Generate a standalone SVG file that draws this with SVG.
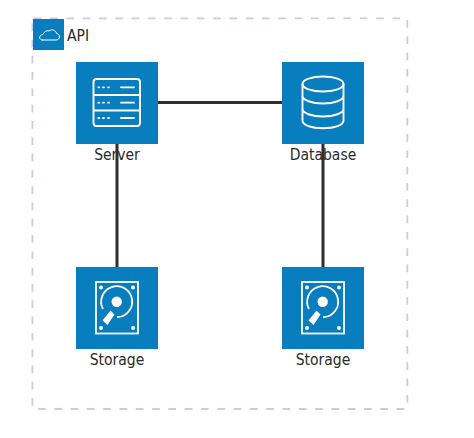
<svg xmlns="http://www.w3.org/2000/svg" width="474" height="438" viewBox="0 0 474 438">
<style>
.bg{fill:#087ebf}
.ic{fill:none;stroke:#fff;stroke-width:1.9;stroke-linecap:round;stroke-linejoin:round}
.fl{fill:#fff}
.lb{font-family:"DejaVu Sans",sans-serif;font-stretch:condensed;font-size:15.500px;fill:#2b2b2b;text-anchor:middle}
.cn{fill:none;stroke:#2f2f2f;stroke-width:3}
.bd{fill:none;stroke:#cdc9ea;stroke-width:1.800;stroke-dasharray:7.700 8.600}
</style>
<defs>
<g id="disk">
<rect class="bg" width="82" height="82"/>
<rect x="20" y="15" width="42" height="51.500" fill="none" stroke="#fff" stroke-width="1.800"/>
<circle class="fl" cx="25" cy="20.500" r="2"/><circle class="fl" cx="57" cy="20.500" r="2"/><circle class="fl" cx="25" cy="61" r="2"/><circle class="fl" cx="57" cy="61" r="2"/>
<path d="M27 42A15.500 15.500 0 1 1 41 50.200" fill="none" stroke="#fff" stroke-width="1.800"/>
<circle class="fl" cx="40.700" cy="34.700" r="5.200"/>
<path class="fl" d="M26.500 53.500L31.500 58L38.500 47.500L34.500 43.500Z"/>
</g>
</defs>
<g id="connectors">
<path class="cn" d="M158 102.500H282"/>
<path class="cn" d="M117 143V267"/>
<path class="cn" d="M323 143V267"/>
</g>
<g id="api-boundary">
<path class="bd" d="M33.800 18.400H401"/>
<path class="bd" d="M407.300 20V404"/>
<path class="bd" d="M38 409H406"/>
<path class="bd" d="M32.400 405.800V20"/>
<rect class="bg" x="33" y="19" width="31" height="31"/>
<path class="ic" style="stroke-width:1" d="M42.500 40H56C60.500 40 60.500 34 56.500 33.500C56 30.500 52 28.500 49 31C45.500 30 43.500 33 43 34.500C38.500 35 38.500 40 42.500 40Z"/>
<text class="lb" x="67" y="41" style="text-anchor:start">API</text>
</g>
<g id="server">
<rect class="bg" x="76" y="62" width="82" height="82"/>
<rect class="ic" x="93.500" y="79" width="46.500" height="47" rx="3"/>
<path class="ic" d="M94 95H140M94 110.500H140"/>
<path d="M98.300 87.300h1M103 87.300h1M108 87.300h1M98.300 102.700h1M103 102.700h1M108 102.700h1M98.300 118h1M103 118h1M108 118h1" stroke="#fff" stroke-width="1.800" stroke-linecap="round"/>
<path d="M121 87.300h13M121 102.700h13M121 118h13" stroke="#fff" stroke-width="1.800" stroke-linecap="round"/>
<text class="lb" x="117" y="160">Server</text>
</g>
<g id="database">
<rect class="bg" x="282" y="62" width="82" height="82"/>
<ellipse class="ic" cx="323" cy="84" rx="20.500" ry="7.500"/>
<path class="ic" d="M302.500 84V120.800C302.500 125 311.500 128.300 323 128.300S343.500 125 343.500 120.800V84M302.500 96C302.500 100 311.500 103.500 323 103.500S343.500 100 343.500 96M302.500 109C302.500 113 311.500 116.500 323 116.500S343.500 113 343.500 109"/>
<text class="lb" x="323" y="160">Database</text>
</g>
<g id="storage-1">
<use href="#disk" x="76" y="267"/>
<text class="lb" x="117" y="365">Storage</text>
</g>
<g id="storage-2">
<use href="#disk" x="282" y="267"/>
<text class="lb" x="323" y="365">Storage</text>
</g>
</svg>
